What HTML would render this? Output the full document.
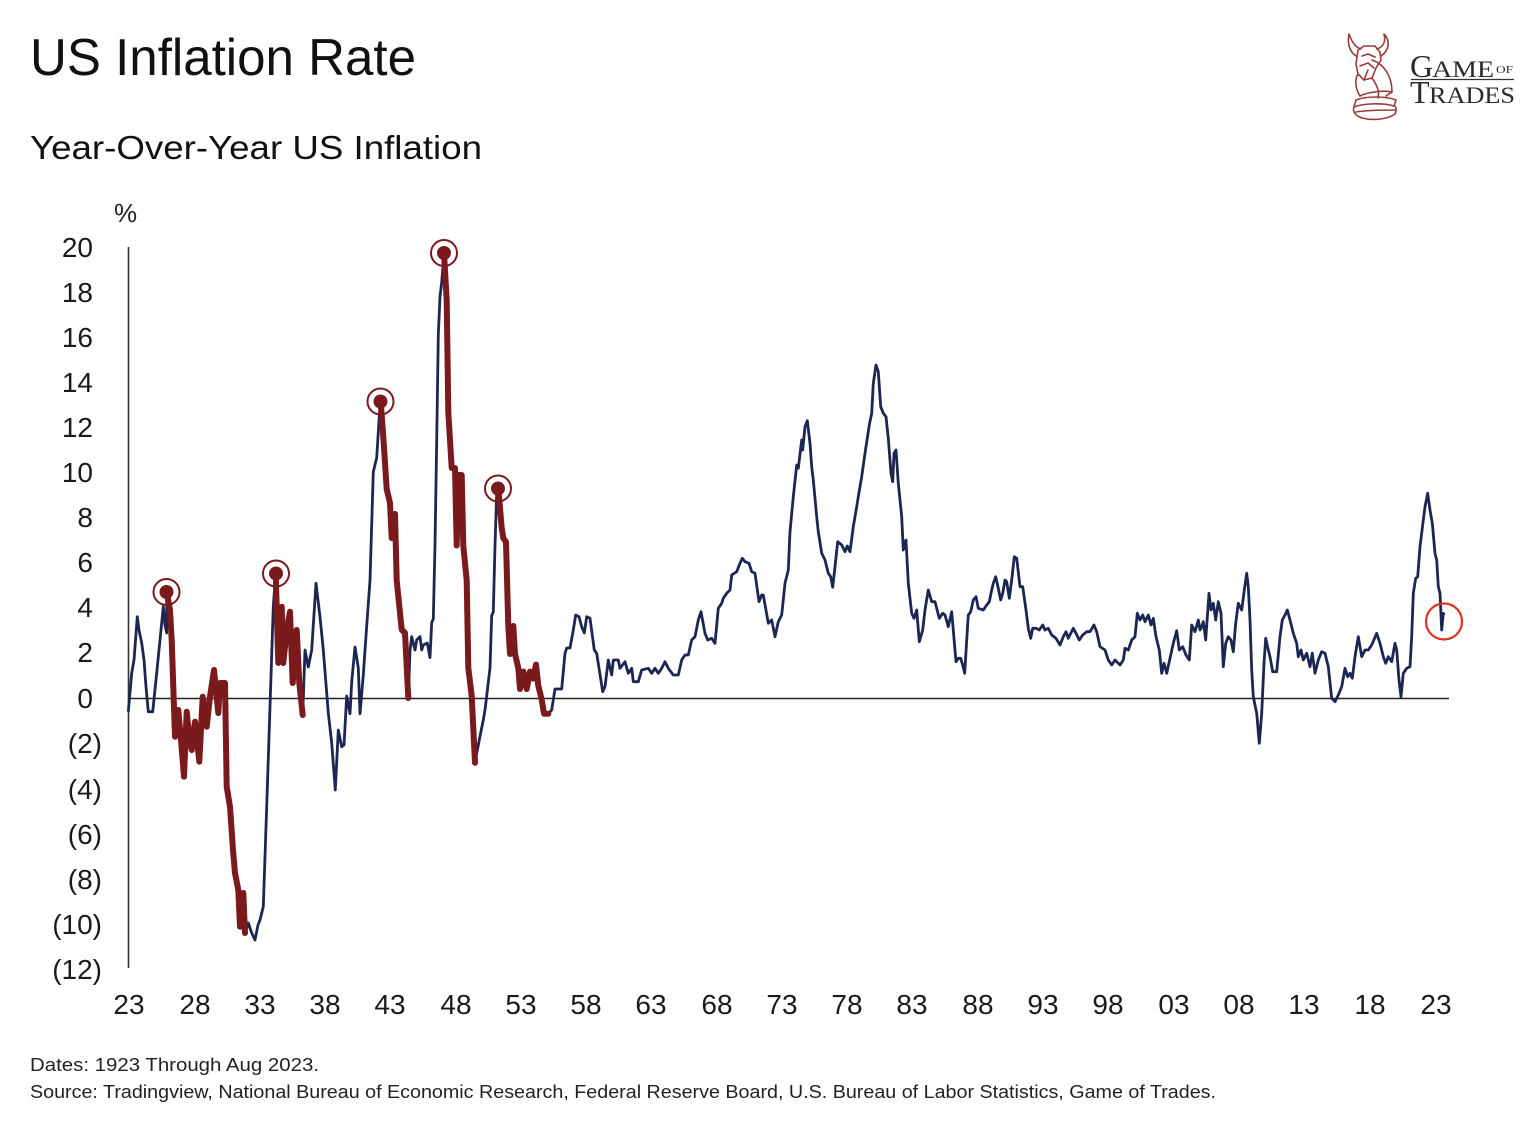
<!DOCTYPE html>
<html>
<head>
<meta charset="utf-8">
<style>
  html,body{margin:0;padding:0;background:#fff;}
  svg{display:block;}
  .sans{font-family:"Liberation Sans", sans-serif;}
</style>
</head>
<body>
<svg width="1536" height="1129" viewBox="0 0 1536 1129" xmlns="http://www.w3.org/2000/svg">
  <rect width="1536" height="1129" fill="#fff"/>

  <g class="sans">
  <!-- Titles -->
  <text x="30" y="75" font-size="52" fill="#111" textLength="386" lengthAdjust="spacingAndGlyphs">US Inflation Rate</text>
  <text x="30" y="159" font-size="33" fill="#111" textLength="452" lengthAdjust="spacingAndGlyphs">Year-Over-Year US Inflation</text>

  <!-- % label -->
  <text x="114" y="222" font-size="26" fill="#222">%</text>

  <!-- Y axis labels -->
  <g font-size="28" fill="#1a1a1a" text-anchor="end">
    <text x="93" y="257">20</text>
    <text x="93" y="302">18</text>
    <text x="93" y="347">16</text>
    <text x="93" y="392">14</text>
    <text x="93" y="437">12</text>
    <text x="93" y="482">10</text>
    <text x="93" y="527">8</text>
    <text x="93" y="572">6</text>
    <text x="93" y="617">4</text>
    <text x="93" y="662">2</text>
    <text x="93" y="708">0</text>
    <text x="102" y="753">(2)</text>
    <text x="102" y="799">(4)</text>
    <text x="102" y="844">(6)</text>
    <text x="102" y="889">(8)</text>
    <text x="102" y="934">(10)</text>
    <text x="102" y="979">(12)</text>
  </g>

  <!-- X axis labels -->
  <g font-size="28" fill="#1a1a1a" text-anchor="middle">
    <text x="129" y="1014">23</text>
    <text x="195" y="1014">28</text>
    <text x="260" y="1014">33</text>
    <text x="325" y="1014">38</text>
    <text x="390" y="1014">43</text>
    <text x="456" y="1014">48</text>
    <text x="521" y="1014">53</text>
    <text x="586" y="1014">58</text>
    <text x="651" y="1014">63</text>
    <text x="717" y="1014">68</text>
    <text x="782" y="1014">73</text>
    <text x="847" y="1014">78</text>
    <text x="912" y="1014">83</text>
    <text x="978" y="1014">88</text>
    <text x="1043" y="1014">93</text>
    <text x="1108" y="1014">98</text>
    <text x="1174" y="1014">03</text>
    <text x="1239" y="1014">08</text>
    <text x="1304" y="1014">13</text>
    <text x="1370" y="1014">18</text>
    <text x="1436" y="1014">23</text>
  </g>

  <!-- Footer -->
  <text x="30" y="1071" font-size="18" fill="#222" textLength="289" lengthAdjust="spacingAndGlyphs">Dates: 1923 Through Aug 2023.</text>
  <text x="30" y="1098" font-size="18" fill="#222" textLength="1186" lengthAdjust="spacingAndGlyphs">Source: Tradingview, National Bureau of Economic Research, Federal Reserve Board, U.S. Bureau of Labor Statistics, Game of Trades.</text>
  </g>

  <!-- Logo -->
  <g fill="none" stroke="#9a3a3a" stroke-width="1.6" stroke-linejoin="round" stroke-linecap="round">
    <path d="M1356,56 C1350,52 1347,44 1349,34 C1352,42 1355,47 1361,49"/>
    <path d="M1377,49 C1383,47 1386,42 1384,34 C1390,40 1390,50 1381,56"/>
    <path d="M1358,50 L1364,46 L1375,46 L1380,52 L1381,60 L1376,68 L1372,78 L1364,80 L1358,74 L1356,64 Z"/>
    <path d="M1362,56 L1368,54 L1375,57 M1360,66 L1368,63 L1374,68 M1364,80 L1368,70"/>
    <path d="M1372,60 C1384,64 1392,76 1392,92 L1386,96 M1372,78 C1376,84 1380,90 1378,98 M1358,74 C1354,80 1356,90 1360,96"/>
    <path d="M1360,96 C1368,92 1384,90 1392,92 M1356,100 C1366,96 1386,96 1396,100 L1394,106 C1384,103 1364,103 1354,107 Z"/>
    <path d="M1354,107 C1352,112 1356,116 1362,118 C1374,121 1388,119 1395,114 C1397,110 1396,106 1394,106 M1356,112 C1368,110 1384,110 1396,110"/>
  </g>
  <g style="font-family:'Liberation Serif', serif;" fill="#2b2b2b">
    <text x="1410" y="77" font-size="32" style="font-family:'Liberation Serif', serif;">G</text>
    <text x="1432" y="77" font-size="23" textLength="62" lengthAdjust="spacingAndGlyphs" style="font-family:'Liberation Serif', serif;">AME</text>
    <text x="1496" y="73" font-size="10.5" textLength="17" lengthAdjust="spacingAndGlyphs" style="font-family:'Liberation Serif', serif;">OF</text>
    <text x="1410" y="103" font-size="32" style="font-family:'Liberation Serif', serif;">T</text>
    <text x="1429" y="103" font-size="23" textLength="86" lengthAdjust="spacingAndGlyphs" style="font-family:'Liberation Serif', serif;">RADES</text>
  </g>
  <line x1="1411" y1="79.5" x2="1514" y2="79.5" stroke="#333" stroke-width="1.2"/>

  <!-- Axes -->
  <line x1="128.5" y1="247" x2="128.5" y2="968" stroke="#333" stroke-width="1.6"/>
  <line x1="128" y1="698.5" x2="1449" y2="698.5" stroke="#222" stroke-width="1.6"/>

  <!-- Blue series -->
  <polyline fill="none" stroke="#1c2653" stroke-width="2.8" stroke-linejoin="round" points="
128.3,711.7 131.7,673 134,660 137.3,616.7 139,630 141.7,643 144,660 146,686.7 148.3,711.7 152.7,711.7 156.7,673 160,640 163.3,606.7 165,625 166.7,633 166.7,592
170,610 171.7,640 175,736.7 178.3,710 181,740 184,776.7 186.7,711.7 189,735 191.7,750 195,721.7 197,740 199.3,761.7 202.7,696.7 206.7,726.7 210,696.7 214,670 216,690 218.3,713 220,683 225,683 226.7,786.7 230,806.7 233,850 235,873 238.3,890 240,926.7 243.3,893 245,933
248.3,923 251.7,933 255,940 258,925 260,920 263.3,906.7 266.7,806.7 270,706.7 273.3,606.7 275.7,573
278.3,663 281.7,606.7 283.3,663 286.7,630 290,611.7 292.7,683 296.7,630 299.3,683 302.7,715
305,650 308.3,667 311.7,650 316,583.3 318,600 320,616.7 323.3,650 328.3,713 331.7,743 335.3,790 338.3,730 341.7,746.7 344,745 346.7,696 350,713.7 351.7,682 355,647 358.3,668 360,713.7 363.3,675 366.7,626 370,580.5 373.3,471.8 376.7,457.8 380,405 380.7,401
383.3,436.8 386.7,489 390,503 391.7,538 395,514 396.7,580.5 401.7,629.6 405,633 408.3,698
410,650.6 411.7,636.6 415,650 416.7,640 420,636.6 421.7,650 423.3,645 427.3,643 430,657.6 431.7,622.6 433.3,619 435,545.5 436.7,440 438.3,335 440,296.6 441.7,282.6 444,252.8
446.7,300 448.3,412 450,440 451.7,468 455,468 456.7,545.5 458.3,475 461.7,475 463.3,545.5 466.7,580.5 468.3,668 471.7,696 475,762.8
478.3,745 481.7,727.7 483.3,720 485,710 486.7,696 490,668 491.7,615.5 493.3,612 495,545.5 496.7,493 498.3,488
501.7,528 503.3,538 506,542 508.3,626 510,654 513.3,626 515,654 518.3,668 520,689 523.3,671.6 526.7,689 530,671.6 533.3,678.6 536,664.6 538.3,685.7 541.7,699.7 544,713.7 548.3,713.7
551.7,710 553.3,699.7 555,689 561.7,689 565,653.3 566.7,648 570,648 573.3,630 575.7,615 579,616.7 581.7,626.7 584.3,633 586.7,616.7 590,618.3 594.3,650 596.7,653.3 602.7,691.7 605,686.7 608.3,660 611.7,675 613.3,660 618.3,660 620,668.3 625,661.7 628.3,673.3 631.7,668.3 633.3,681.7 638.3,681.7 641.7,670 648.3,668.3 651.7,673.3 655,668.3 658.3,673.3 661.7,668.3 665,661.7 668.3,668.3 673.3,675 678.3,675 681.7,660 685,655 688.3,655 691.7,640 695,636.7 698.3,620 701,611.7 705,633.3 707.7,640 711.7,638.3 715,643.3 718.3,608.3 721.7,603.3 723.3,598.3 726.7,593.3 730,590 731.7,575 736.7,571.7 740,563.3 742.3,558.3 745,561.7 749,563.3 751.7,571.7 755,573.3 759,601.7 761.7,595
763.3,595 768.3,623.3 771.7,620 775,636.7 778.3,621.7 781.7,615 785,583.3 788.3,570 790,531.7 793.3,496.7 796.7,465 798.3,468.3 801.7,440 802.7,450 805,426.7 807.3,420.7 810,443.3 811.7,466.7 813.3,480 816.7,516.7 818.3,531.7 821.7,553.3 825,560 828.3,573.3 830.7,576.7 832.7,587.3 835,566.7 837.7,541.7 841.7,545 845,551.7 847.3,546 850,551.7 853.3,526.7 856.7,506.7 858.3,496.7 861.7,476.7 865,453.3 869.3,425 871.7,413.3 873.3,383.3 876,365 878.3,371.7 880.7,406.7 883.3,413.3 886,416.7 888.3,438.3 891,473.3 892.7,481.7 894,453.3 896,450 898.3,483.3 901.7,516.7 903.3,550 906,540 908.3,583.3 911.7,613.3 914,618.3 916.7,610 919.3,641.7 922.7,630 925,610 928.3,590 931.7,601.7 935,601.7 939.3,618.3 942.7,613.3 945,615 948.3,626.7 951.7,611.7 956,661.7
958.3,658.3 960.7,658.3 962.7,665 964.7,673.3 966.7,640 968.3,615 970.7,611.7 973.3,600 976,596.7 978.3,608.3 983.3,610 986.7,605 989.3,601.7 991.7,590 993.3,583.3 995.7,576.7 998.3,588.3 1000.7,600 1002.7,593.3 1005,580 1006.7,581.7 1009.3,598.3 1011.7,580 1014.3,556.7 1016.7,558.3 1020,586.7 1022.7,586.7 1026,610 1028.3,628.3 1030.7,638.3 1032.7,628.3 1036,628.3 1039.3,630 1042.7,625 1045,630 1048.3,628.3 1051.7,635 1056,638.3 1060,645 1063.3,636.7 1066,631.7 1068.3,638.3 1073.3,628.3 1076,633.3 1079.3,640 1082.7,635 1086.7,631.7 1090,631.7 1094,625 1096.7,631.7 1100,646.7 1105,650 1108.3,660 1111.7,665 1115,660 1120,665 1123.3,660 1125,648.3 1128.3,650 1131.7,640 1135,636.7 1137.3,613.3 1140,620 1142.7,615 1145,621.7 1148.3,615 1151,625 1153.3,618.3 1156,636.7 1159.3,650 1161.7,673.3 1164,663.3 1166.7,673.3 1170,658.3 1173.3,643.3 1176.7,630.7 1179.3,650 1182.7,646.7 1186,655 1189.3,660 1191.7,625 1195,631.7 1198.3,620
1200,630 1201.7,626.7 1203.3,621.7 1205.7,640 1209,593.3 1211,610 1213.3,603.3 1215.7,620 1218.3,601.7 1221,613.3 1223.3,666.7 1225.7,643.3 1228.3,636.7 1231,640 1233.3,651.7 1235.7,623.3 1238.3,603.3 1241.7,610 1244.3,590 1246.7,573.3 1248.3,586.7 1250,620 1251.7,670 1253.3,696.7 1256.7,713.3 1259.3,743.3 1261.7,713.3 1264,663.3 1265.7,638.3 1268.3,650 1270,656.7 1272.7,671.7 1276.7,671.7 1280,636.7 1282.3,620 1285,615 1287.3,610 1290,620 1293.3,633.3 1296.7,643.3 1298.3,656.7 1301,650 1303.3,660 1306.7,653.3 1310,666.7 1312.3,653.3 1315,673.3 1318.3,660 1321.7,651.7 1325,653.3 1328.3,666.7 1331.7,698.3 1335,701.7 1338.3,695 1341.7,686.7 1345,668.3 1347.7,676.7 1350,673.3 1352.3,678.3 1355,656.7 1358.3,636.7 1361.7,656.7 1365,650 1368.3,650 1371.7,645 1376.7,633.3 1380,643.3 1383.3,656.7 1385.7,663.3 1388.3,656.7 1391.7,661.7 1395,643.3 1396.7,650 1399,680 1401,696.7 1403.3,673.3 1406.7,668.3 1410,666.7 1411.7,636.7 1413.3,593.3 1415.7,578.3 1417.7,576.7 1420,546.7 1423.3,520 1425,506.7 1427.7,493.3 1430,510 1432.3,523.3 1435,553.3 1436.7,560 1438.3,586.7 1440,593.3 1441.7,630 1443.3,613.3 1444.3,615
"/>

  <!-- Red highlighted segments -->
  <g fill="none" stroke="#7a1a1c" stroke-width="6" stroke-linejoin="round" stroke-linecap="round">
    <polyline points="166.7,592 170,610 171.7,640 175,736.7 178.3,710 181,740 184,776.7 186.7,711.7 189,735 191.7,750 195,721.7 197,740 199.3,761.7 202.7,696.7 206.7,726.7 210,696.7 214,670 216,690 218.3,713 220,683 225,683 226.7,786.7 230,806.7 233,850 235,873 238.3,890 240,926.7 243.3,893 245,933"/>
    <polyline points="275.7,573 278.3,663 281.7,606.7 283.3,663 286.7,630 290,611.7 292.7,683 296.7,630 299.3,683 302.7,715"/>
    <polyline points="380.7,401 383.3,436.8 386.7,489 390,503 391.7,538 395,514 396.7,580.5 401.7,629.6 405,633 408.3,698"/>
    <polyline points="444,252.8 446.7,300 448.3,412 450,440 451.7,468 455,468 456.7,545.5 458.3,475 461.7,475 463.3,545.5 466.7,580.5 468.3,668 471.7,696 475,762.8"/>
    <polyline points="498.3,488 501.7,528 503.3,538 506,542 508.3,626 510,654 513.3,626 515,654 518.3,668 520,689 523.3,671.6 526.7,689 530,671.6 533.3,678.6 536,664.6 538.3,685.7 541.7,699.7 544,713.7 548.3,713.7"/>
  </g>

  <!-- Peak markers -->
  <g fill="#7a1a1c">
    <circle cx="166.5" cy="592" r="7"/>
    <circle cx="276" cy="573.5" r="7"/>
    <circle cx="380.5" cy="401.5" r="7"/>
    <circle cx="444" cy="253" r="7"/>
    <circle cx="498" cy="488.5" r="7"/>
  </g>
  <g fill="none" stroke="#7a1a1c" stroke-width="2">
    <circle cx="166.5" cy="592" r="13"/>
    <circle cx="276" cy="573.5" r="13"/>
    <circle cx="380.5" cy="401.5" r="13"/>
    <circle cx="444" cy="253" r="13"/>
    <circle cx="498" cy="488.5" r="13"/>
  </g>

  <!-- Current highlight circle -->
  <circle cx="1444" cy="621.5" r="18" fill="none" stroke="#e0311f" stroke-width="2.2"/>
</svg>
</body>
</html>
